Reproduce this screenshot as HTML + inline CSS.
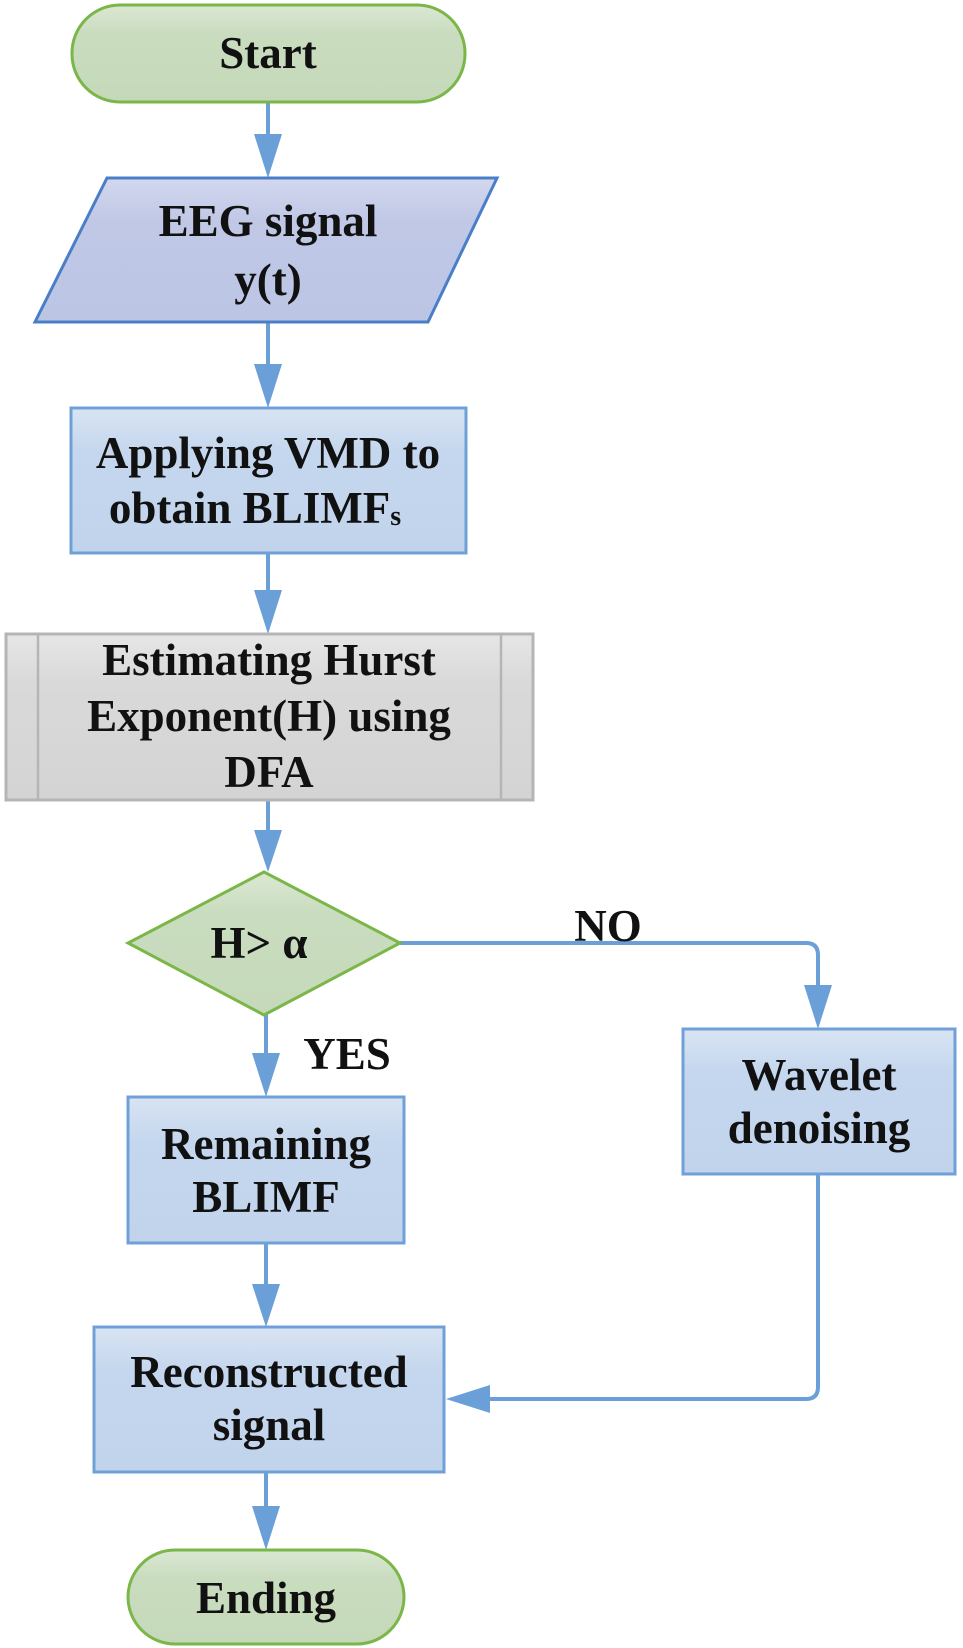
<!DOCTYPE html>
<html><head><meta charset="utf-8"><style>
html,body{margin:0;padding:0;background:#fff;}
svg{display:block;}
text{font-family:"Liberation Serif",serif;font-weight:bold;font-size:45px;fill:#111;text-anchor:middle;dominant-baseline:central;}
</style></head><body>
<svg width="963" height="1648" viewBox="0 0 963 1648" xmlns="http://www.w3.org/2000/svg">
<defs>
<linearGradient id="gg" x1="0" y1="0" x2="0" y2="1"><stop offset="0" stop-color="#dbe8d3"/><stop offset="0.3" stop-color="#c9dcbf"/><stop offset="1" stop-color="#c5d9ba"/></linearGradient>
<linearGradient id="bg" x1="0" y1="0" x2="0" y2="1"><stop offset="0" stop-color="#d8e4f3"/><stop offset="0.3" stop-color="#c5d7ee"/><stop offset="1" stop-color="#c2d4ec"/></linearGradient>
<linearGradient id="pg" x1="0" y1="0" x2="0" y2="1"><stop offset="0" stop-color="#d3d8ee"/><stop offset="0.3" stop-color="#c0c8e6"/><stop offset="1" stop-color="#bcc5e4"/></linearGradient>
<linearGradient id="gr" x1="0" y1="0" x2="0" y2="1"><stop offset="0" stop-color="#e6e6e6"/><stop offset="0.3" stop-color="#d9d9d9"/><stop offset="1" stop-color="#d4d4d4"/></linearGradient>
</defs>
<g stroke="#6a9fd8" stroke-width="4" fill="none">
<line x1="268" y1="102" x2="268" y2="140"/>
<line x1="268" y1="322" x2="268" y2="370"/>
<line x1="268" y1="553" x2="268" y2="596"/>
<line x1="268" y1="800" x2="268" y2="835"/>
<line x1="266" y1="1015" x2="266" y2="1058"/>
<line x1="266" y1="1243" x2="266" y2="1290"/>
<line x1="266" y1="1472" x2="266" y2="1512"/>
<path d="M400 943 H806 Q818 943 818 955 V990"/>
<path d="M818 1174 V1387 Q818 1399 806 1399 H485"/>
</g>
<g fill="#6a9fd8">
<polygon points="254,134 282,134 268,178"/>
<polygon points="254,364 282,364 268,408"/>
<polygon points="254,590 282,590 268,634"/>
<polygon points="254,830 282,830 268,872"/>
<polygon points="252,1053 280,1053 266,1097"/>
<polygon points="252,1284 280,1284 266,1327"/>
<polygon points="252,1506 280,1506 266,1550"/>
<polygon points="804,985 832,985 818,1029"/>
<polygon points="490,1385 490,1413 446,1399"/>
</g>
<rect x="72" y="5" width="393" height="97" rx="48" fill="url(#gg)" stroke="#7ab648" stroke-width="3"/>
<polygon points="107,178 497,178 428,322 35,322" fill="url(#pg)" stroke="#4a7fc8" stroke-width="3"/>
<rect x="71" y="408" width="395" height="145" fill="url(#bg)" stroke="#6fa0d8" stroke-width="3"/>
<rect x="6" y="634" width="527" height="166" fill="url(#gr)" stroke="#b5b5b5" stroke-width="3"/>
<line x1="38" y1="634" x2="38" y2="800" stroke="#b5b5b5" stroke-width="2.5"/>
<line x1="501" y1="634" x2="501" y2="800" stroke="#b5b5b5" stroke-width="2.5"/>
<polygon points="264,872 400,943 264,1015 128,943" fill="url(#gg)" stroke="#7ab648" stroke-width="3"/>
<rect x="683" y="1029" width="272" height="145" fill="url(#bg)" stroke="#6fa0d8" stroke-width="3"/>
<rect x="128" y="1097" width="276" height="146" fill="url(#bg)" stroke="#6fa0d8" stroke-width="3"/>
<rect x="94" y="1327" width="350" height="145" fill="url(#bg)" stroke="#6fa0d8" stroke-width="3"/>
<rect x="128" y="1550" width="276" height="94" rx="47" fill="url(#gg)" stroke="#7ab648" stroke-width="3"/>
<text x="268" y="53">Start</text>
<text x="268" y="221">EEG signal</text>
<text x="268" y="280">y(t)</text>
<text x="268" y="453">Applying VMD to</text>
<text x="255" y="508">obtain BLIMF<tspan font-size="28" dy="8">s</tspan></text>
<text x="269" y="660">Estimating Hurst</text>
<text x="269" y="716">Exponent(H) using</text>
<text x="269" y="772">DFA</text>
<text x="259" y="943" font-size="38">H&gt; α</text>
<text x="608" y="926" font-size="40">NO</text>
<text x="347" y="1054" font-size="40">YES</text>
<text x="819" y="1075">Wavelet</text>
<text x="819" y="1128">denoising</text>
<text x="266" y="1144">Remaining</text>
<text x="266" y="1197">BLIMF</text>
<text x="269" y="1372">Reconstructed</text>
<text x="269" y="1425">signal</text>
<text x="266" y="1598">Ending</text>
</svg>
</body></html>
